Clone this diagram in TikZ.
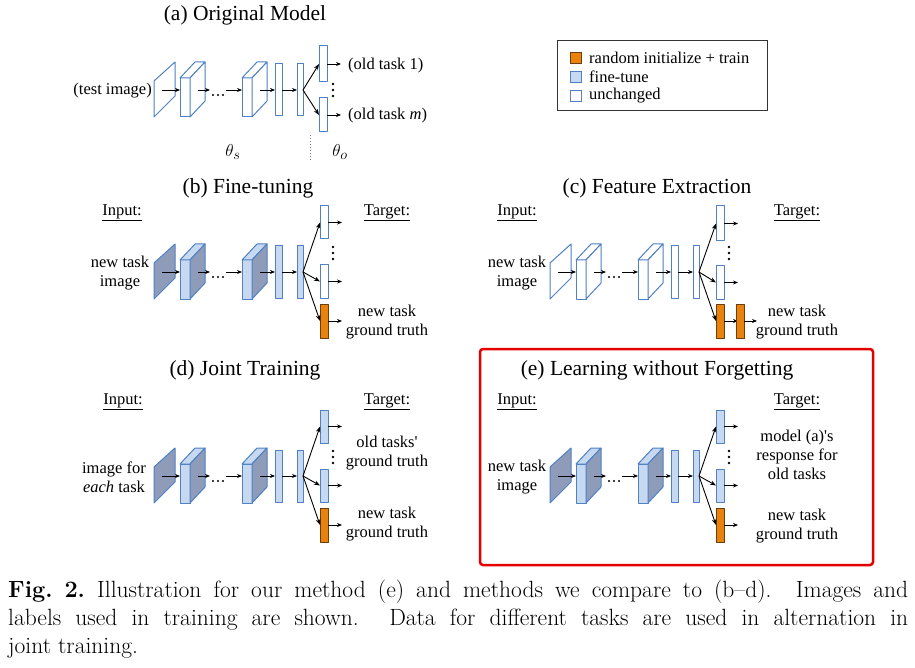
\documentclass[tikz,border=0pt]{standalone}
\usepackage{fontspec}
\newfontfamily\tms{Liberation Serif}
\usetikzlibrary{arrows.meta}
\definecolor{bl}{HTML}{4F81C4}
\definecolor{lb}{HTML}{C6D9F1}
\definecolor{dk}{HTML}{8E9CBA}
\definecolor{org}{HTML}{E8820C}
\definecolor{orl}{HTML}{6B3E0A}
\tikzset{
 shp/.style={draw=bl,line width=1pt,line join=round},
 arr/.style={-{Stealth[length=5pt,width=4pt]},line width=0.8pt},
 lab/.style={font=\tms\fontsize{16.5}{19}\selectfont,align=center,inner sep=0},
 ttl/.style={font=\tms\fontsize{21.5}{24}\selectfont,inner sep=0},
}
\newcommand{\boxthree}[3]{% x, front fill, side fill
 \filldraw[shp,fill=#2] (#1,260) rectangle (#1+10,299);
 \filldraw[shp,fill=#2] (#1,260)--(#1+15,244)--(#1+25,244)--(#1+10,260)--cycle;
 \filldraw[shp,fill=#3] (#1+10,260)--(#1+25,244)--(#1+25,283)--(#1+10,299)--cycle;}
\newcommand{\netbody}[5]{% xshift, yshift, imgfill, bodyfill, sidefill
 \begin{scope}[shift={(#1,#2)}]
 \filldraw[shp,fill=#3] (154,263)--(175,244)--(175,278)--(154,299)--cycle;
 \boxthree{180}{#4}{#5}
 \boxthree{242}{#4}{#5}
 \filldraw[shp,fill=#4] (275,246) rectangle (282,298);
 \filldraw[shp,fill=#4] (297,246) rectangle (303,298);
 \coordinate (br) at (303,272);
 \draw[arr] (162,272)--(180,272);
 \draw[arr] (198,272)--(210,272);
 \foreach \xx in {213,218,223} \fill (\xx,277) circle (1.2pt);
 \draw[arr] (226,272)--(242,272);
 \draw[arr] (260,272)--(275,272);
 \draw[arr] (282,272)--(297,272);
 \end{scope}}
\newcommand{\head}[5]{% name, x, y1, y2, fill
 \filldraw[shp,#5] (#2,#3) rectangle (#2+8,#4);
 \coordinate (#1) at (#2,{(#3+#4)/2});
 \draw[arr] (#2+8,{(#3+#4)/2})--(#2+22,{(#3+#4)/2});
 \draw[-{Stealth[length=6pt,width=4.5pt]},line width=0.9pt] (br)--(#1);}
\newcommand{\vdotsat}[2]{\foreach \dd in {-6,0,6} \fill (#1,#2+\dd) circle (1.3pt);}
\begin{document}
\begin{tikzpicture}[x=1pt,y=-1pt]
\useasboundingbox (0,0) rectangle (915,668);
% legend
\draw[line width=0.8pt,draw=black!80] (557,40) rectangle (767,110);
\filldraw[draw=orl,fill=org,line width=0.8pt] (570,52) rectangle (581,63);
\filldraw[draw=bl,fill=lb,line width=0.8pt] (570,71) rectangle (581,82);
\filldraw[draw=bl,fill=white,line width=0.8pt] (570,90) rectangle (581,101);
\node[lab,anchor=west] at (589,58) {random initialize + train};
\node[lab,anchor=west] at (589,77) {fine-tune};
\node[lab,anchor=west] at (589,96) {unchanged};
% (a)
\node[ttl] (ta) at (245,15) {(a) Original Model};
\netbody{0}{-182}{white}{white}{white}
\head{a1}{319}{46}{82}{fill=white}
\head{a2}{319}{98}{132}{fill=white}
\vdotsat{333}{90}
\node[lab,anchor=east] at (152,91) {(test image)};
\node[lab,anchor=west] at (348,66) {(old task 1)};
\node[lab,anchor=west] at (348,116) {(old task \textit{m})};
\node[font=\fontsize{19}{21}\selectfont] at (233,152) {$\theta_s$};
\node[font=\fontsize{19}{21}\selectfont] at (340,152) {$\theta_o$};
\draw[dotted,line width=1pt,gray] (310,135)--(310,162);
% (b)
\node[ttl] at (248,188) {(b) Fine-tuning};
\netbody{0}{0}{dk}{lb}{dk}
\head{b1}{320}{206}{239}{fill=white}
\head{b2}{320}{265}{298}{fill=white}
\head{b3}{320}{304}{338}{draw=orl,fill=org}
\vdotsat{333}{253}
\node[lab] at (122,213) {\underline{Input:}};
\node[lab] at (387,213) {\underline{Target:}};
\node[lab] at (120,273) {new task\\image};
\node[lab] at (387,322) {new task\\ground truth};
% (c)
\node[ttl] at (657,188) {(c) Feature Extraction};
\netbody{396}{0}{white}{white}{white}
\head{c1}{716}{206}{241}{fill=white}
\head{c2}{716}{266}{299}{fill=white}
\head{c3}{716}{304}{338}{draw=orl,fill=org}
\filldraw[shp,draw=orl,fill=org] (736,304) rectangle (744,338);
\draw[arr] (744,321)--(757,321);
\vdotsat{729}{253}
\node[lab] at (517,213) {\underline{Input:}};
\node[lab] at (797,213) {\underline{Target:}};
\node[lab] at (517,273) {new task\\image};
\node[lab] at (797,322) {new task\\ground truth};
% (d)
\node[ttl] at (245,370) {(d) Joint Training};
\netbody{0}{204}{dk}{lb}{dk}
\head{d1}{320}{410}{443}{fill=lb}
\head{d2}{320}{469}{502}{fill=lb}
\head{d3}{320}{508}{542}{draw=orl,fill=org}
\vdotsat{333}{457}
\node[lab] at (123,402) {\underline{Input:}};
\node[lab] at (387,402) {\underline{Target:}};
\node[lab] at (114,477) {image for\\\textit{each} task};
\node[lab] at (387,453) {old tasks'\\ground truth};
\node[lab] at (387,524) {new task\\ground truth};
% (e)
\node[ttl] at (657,370) {(e) Learning without Forgetting};
\netbody{396}{204}{dk}{lb}{dk}
\head{e1}{716}{410}{443}{fill=lb}
\head{e2}{716}{469}{502}{fill=lb}
\head{e3}{716}{508}{542}{draw=orl,fill=org}
\vdotsat{729}{457}
\node[lab] at (517,402) {\underline{Input:}};
\node[lab] at (797,402) {\underline{Target:}};
\node[lab] at (517,477) {new task\\image};
\node[lab] at (797,455) {model (a)'s\\response for\\old tasks};
\node[lab] at (797,526) {new task\\ground truth};
\draw[red!90!black,line width=2.5pt,rounded corners=3pt] (480,349) rectangle (873,565);
% caption
\begin{scope}[every node/.style={anchor=west,inner sep=0,font=\fontsize{23.5}{26}\selectfont}]
\node at (8,592) {\makebox[900pt][s]{\mbox{\textbf{Fig. 2.}} Illustration for our method (e) and methods we compare to (b--d). Images and}};
\node at (8,620) {\makebox[900pt][s]{labels used in training are shown. Data for different tasks are used in alternation in}};
\node at (8,648) {joint training.};
\end{scope}
\end{tikzpicture}
\end{document}
